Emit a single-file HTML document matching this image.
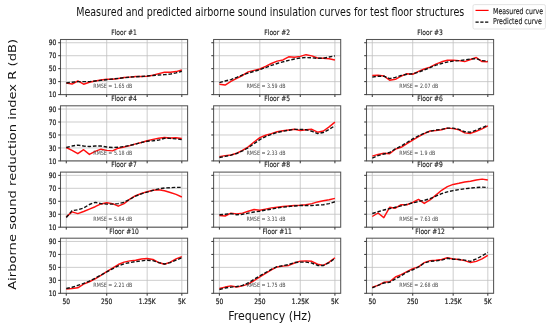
<!DOCTYPE html><html><head><meta charset="utf-8"><style>html,body{margin:0;padding:0;background:#fff;overflow:hidden}svg{display:block;filter:blur(0.35px)}text{font-family:"DejaVu Sans","Liberation Sans",sans-serif}</style></head><body>
<svg width="550" height="328" viewBox="0 0 550 328">
<rect width="550" height="328" fill="#fff"/>
<text transform="translate(270.2,16.1) scale(0.822,1)" font-size="11.6" text-anchor="middle" fill="#111">Measured and predicted airborne sound insulation curves for test floor structures</text>
<rect x="473" y="4.6" width="72.4" height="24.4" rx="1.5" fill="#fff" stroke="#d9d9d9" stroke-width="0.7"/>
<line x1="475.5" y1="10.4" x2="488.6" y2="10.4" stroke="#ff0000" stroke-width="1.2"/>
<line x1="475.5" y1="22.1" x2="488.6" y2="22.1" stroke="#000" stroke-width="1.2" stroke-dasharray="3.2,1.6"/>
<text transform="translate(493,13.7) scale(0.755,1)" font-size="8.3" text-anchor="start" fill="#222" stroke="#1a1a1a" stroke-width="0.14">Measured curve</text>
<text transform="translate(493,24.4) scale(0.755,1)" font-size="8.3" text-anchor="start" fill="#222" stroke="#1a1a1a" stroke-width="0.14">Predicted curve</text>
<text transform="translate(269.8,319.5) scale(0.87,1)" font-size="12.7" text-anchor="middle" fill="#111">Frequency (Hz)</text>
<text transform="translate(15.8,164.4) scale(0.8,1) rotate(-90)" font-size="13.1" text-anchor="middle" fill="#111">Airborne sound reduction index R (dB)</text>
<g stroke="#c0c0c0" stroke-width="0.8"><line x1="66.28" y1="39.5" x2="66.28" y2="94.6"/><line x1="106.72" y1="39.5" x2="106.72" y2="94.6"/><line x1="147.16" y1="39.5" x2="147.16" y2="94.6"/><line x1="181.82" y1="39.5" x2="181.82" y2="94.6"/><line x1="60.5" y1="94.6" x2="187.6" y2="94.6"/><line x1="60.5" y1="81.64" x2="187.6" y2="81.64"/><line x1="60.5" y1="68.67" x2="187.6" y2="68.67"/><line x1="60.5" y1="55.71" x2="187.6" y2="55.71"/><line x1="60.5" y1="42.74" x2="187.6" y2="42.74"/></g>
<polyline points="66.28,83.06 72.05,84.03 77.83,80.99 83.61,84.23 89.39,82.28 95.16,80.99 100.94,79.95 106.72,79.24 112.5,79.24 118.27,78.52 124.05,77.55 129.83,77.1 135.6,76.58 141.38,76.58 147.16,76.19 152.94,75.28 158.71,73.6 164.49,72.3 170.27,72.17 176.05,71.59 181.82,69.97" fill="none" stroke="#ff1010" stroke-width="1.45" stroke-linejoin="round"/>
<polyline points="66.28,82.93 72.05,82.28 77.83,81.64 83.61,81.64 89.39,81.64 95.16,80.99 100.94,80.34 106.72,79.69 112.5,79.04 118.27,78.39 124.05,77.75 129.83,77.1 135.6,76.77 141.38,76.45 147.16,75.93 152.94,75.48 158.71,75.02 164.49,74.63 170.27,74.12 176.05,72.88 181.82,71.26" fill="none" stroke="#111" stroke-width="1.4" stroke-dasharray="3.6,1.8" stroke-linejoin="round"/>
<rect x="60.5" y="39.5" width="127.1" height="55.1" fill="none" stroke="#555" stroke-width="1.05"/>
<g stroke="#333" stroke-width="1.0"><line x1="58.2" y1="94.6" x2="60.5" y2="94.6"/><line x1="58.2" y1="81.64" x2="60.5" y2="81.64"/><line x1="58.2" y1="68.67" x2="60.5" y2="68.67"/><line x1="58.2" y1="55.71" x2="60.5" y2="55.71"/><line x1="58.2" y1="42.74" x2="60.5" y2="42.74"/><line x1="66.28" y1="94.6" x2="66.28" y2="97"/><line x1="106.72" y1="94.6" x2="106.72" y2="97"/><line x1="147.16" y1="94.6" x2="147.16" y2="97"/><line x1="181.82" y1="94.6" x2="181.82" y2="97"/></g>
<text transform="translate(56.3,97.35) scale(0.8,1)" font-size="7.5" text-anchor="end" fill="#1a1a1a" stroke="#1a1a1a" stroke-width="0.22">10</text>
<text transform="translate(56.3,84.39) scale(0.8,1)" font-size="7.5" text-anchor="end" fill="#1a1a1a" stroke="#1a1a1a" stroke-width="0.22">30</text>
<text transform="translate(56.3,71.42) scale(0.8,1)" font-size="7.5" text-anchor="end" fill="#1a1a1a" stroke="#1a1a1a" stroke-width="0.22">50</text>
<text transform="translate(56.3,58.46) scale(0.8,1)" font-size="7.5" text-anchor="end" fill="#1a1a1a" stroke="#1a1a1a" stroke-width="0.22">70</text>
<text transform="translate(56.3,45.49) scale(0.8,1)" font-size="7.5" text-anchor="end" fill="#1a1a1a" stroke="#1a1a1a" stroke-width="0.22">90</text>
<text transform="translate(124.05,34.8) scale(0.8,1)" font-size="7.5" text-anchor="middle" fill="#1a1a1a" stroke="#1a1a1a" stroke-width="0.14">Floor #1</text>
<text transform="translate(93.3,88.2) scale(0.8,1)" font-size="6.0" text-anchor="start" fill="#444">RMSE = 1.65 dB</text>
<g stroke="#c0c0c0" stroke-width="0.8"><line x1="219.38" y1="39.5" x2="219.38" y2="94.6"/><line x1="259.82" y1="39.5" x2="259.82" y2="94.6"/><line x1="300.26" y1="39.5" x2="300.26" y2="94.6"/><line x1="334.92" y1="39.5" x2="334.92" y2="94.6"/><line x1="213.6" y1="94.6" x2="340.7" y2="94.6"/><line x1="213.6" y1="81.64" x2="340.7" y2="81.64"/><line x1="213.6" y1="68.67" x2="340.7" y2="68.67"/><line x1="213.6" y1="55.71" x2="340.7" y2="55.71"/><line x1="213.6" y1="42.74" x2="340.7" y2="42.74"/></g>
<polyline points="219.38,84.29 225.15,85.01 230.93,81.44 236.71,78.33 242.49,75.48 248.26,71.91 254.04,70.42 259.82,68.99 265.6,66.4 271.37,63.48 277.15,61.09 282.93,59.92 288.7,56.81 294.48,57.26 300.26,56.35 306.04,54.67 311.81,55.84 317.59,57.97 323.37,58.3 329.15,58.69 334.92,59.92" fill="none" stroke="#ff1010" stroke-width="1.45" stroke-linejoin="round"/>
<polyline points="219.38,82.61 225.15,80.99 230.93,79.56 236.71,77.36 242.49,74.96 248.26,73.08 254.04,71.39 259.82,69.71 265.6,67.57 271.37,65.43 277.15,63.48 282.93,61.86 288.7,60.37 294.48,58.95 300.26,57.97 306.04,57.52 311.81,57.78 317.59,58.3 323.37,58.3 329.15,57 334.92,55.84" fill="none" stroke="#111" stroke-width="1.4" stroke-dasharray="3.6,1.8" stroke-linejoin="round"/>
<rect x="213.6" y="39.5" width="127.1" height="55.1" fill="none" stroke="#555" stroke-width="1.05"/>
<g stroke="#333" stroke-width="1.0"><line x1="211.3" y1="94.6" x2="213.6" y2="94.6"/><line x1="211.3" y1="81.64" x2="213.6" y2="81.64"/><line x1="211.3" y1="68.67" x2="213.6" y2="68.67"/><line x1="211.3" y1="55.71" x2="213.6" y2="55.71"/><line x1="211.3" y1="42.74" x2="213.6" y2="42.74"/><line x1="219.38" y1="94.6" x2="219.38" y2="97"/><line x1="259.82" y1="94.6" x2="259.82" y2="97"/><line x1="300.26" y1="94.6" x2="300.26" y2="97"/><line x1="334.92" y1="94.6" x2="334.92" y2="97"/></g>
<text transform="translate(277.15,34.8) scale(0.8,1)" font-size="7.5" text-anchor="middle" fill="#1a1a1a" stroke="#1a1a1a" stroke-width="0.14">Floor #2</text>
<text transform="translate(246.4,88.2) scale(0.8,1)" font-size="6.0" text-anchor="start" fill="#444">RMSE = 3.59 dB</text>
<g stroke="#c0c0c0" stroke-width="0.8"><line x1="372.28" y1="39.5" x2="372.28" y2="94.6"/><line x1="412.72" y1="39.5" x2="412.72" y2="94.6"/><line x1="453.16" y1="39.5" x2="453.16" y2="94.6"/><line x1="487.82" y1="39.5" x2="487.82" y2="94.6"/><line x1="366.5" y1="94.6" x2="493.6" y2="94.6"/><line x1="366.5" y1="81.64" x2="493.6" y2="81.64"/><line x1="366.5" y1="68.67" x2="493.6" y2="68.67"/><line x1="366.5" y1="55.71" x2="493.6" y2="55.71"/><line x1="366.5" y1="42.74" x2="493.6" y2="42.74"/></g>
<polyline points="372.28,75.48 378.05,75.22 383.83,75.93 389.61,80.27 395.39,79.3 401.16,76.19 406.94,73.79 412.72,74.25 418.5,71.39 424.27,68.99 430.05,67.11 435.83,64.2 441.6,61.8 447.38,60.18 453.16,60.18 458.94,60.63 464.71,61.6 470.49,59.47 476.27,57.52 482.05,61.6 487.82,61.8" fill="none" stroke="#ff1010" stroke-width="1.45" stroke-linejoin="round"/>
<polyline points="372.28,77.16 378.05,76.19 383.83,76.19 389.61,78.59 395.39,77.36 401.16,75.48 406.94,74.25 412.72,73.79 418.5,72.11 424.27,69.97 430.05,67.57 435.83,65.17 441.6,63.48 447.38,62.06 453.16,61.09 458.94,60.63 464.71,59.92 470.49,58.95 476.27,58.69 482.05,60.63 487.82,61.09" fill="none" stroke="#111" stroke-width="1.4" stroke-dasharray="3.6,1.8" stroke-linejoin="round"/>
<rect x="366.5" y="39.5" width="127.1" height="55.1" fill="none" stroke="#555" stroke-width="1.05"/>
<g stroke="#333" stroke-width="1.0"><line x1="364.2" y1="94.6" x2="366.5" y2="94.6"/><line x1="364.2" y1="81.64" x2="366.5" y2="81.64"/><line x1="364.2" y1="68.67" x2="366.5" y2="68.67"/><line x1="364.2" y1="55.71" x2="366.5" y2="55.71"/><line x1="364.2" y1="42.74" x2="366.5" y2="42.74"/><line x1="372.28" y1="94.6" x2="372.28" y2="97"/><line x1="412.72" y1="94.6" x2="412.72" y2="97"/><line x1="453.16" y1="94.6" x2="453.16" y2="97"/><line x1="487.82" y1="94.6" x2="487.82" y2="97"/></g>
<text transform="translate(430.05,34.8) scale(0.8,1)" font-size="7.5" text-anchor="middle" fill="#1a1a1a" stroke="#1a1a1a" stroke-width="0.14">Floor #3</text>
<text transform="translate(399.3,88.2) scale(0.8,1)" font-size="6.0" text-anchor="start" fill="#444">RMSE = 2.07 dB</text>
<g stroke="#c0c0c0" stroke-width="0.8"><line x1="66.28" y1="105.8" x2="66.28" y2="160.9"/><line x1="106.72" y1="105.8" x2="106.72" y2="160.9"/><line x1="147.16" y1="105.8" x2="147.16" y2="160.9"/><line x1="181.82" y1="105.8" x2="181.82" y2="160.9"/><line x1="60.5" y1="160.9" x2="187.6" y2="160.9"/><line x1="60.5" y1="147.94" x2="187.6" y2="147.94"/><line x1="60.5" y1="134.97" x2="187.6" y2="134.97"/><line x1="60.5" y1="122.01" x2="187.6" y2="122.01"/><line x1="60.5" y1="109.04" x2="187.6" y2="109.04"/></g>
<polyline points="66.28,147.48 72.05,150.4 77.83,153.7 83.61,149.69 89.39,154.42 95.16,151.31 100.94,149.17 106.72,150.4 112.5,150.85 118.27,148.19 124.05,147.03 129.83,145.6 135.6,143.92 141.38,142.49 147.16,140.8 152.94,139.38 158.71,138.21 164.49,137.43 170.27,137.95 176.05,137.69 181.82,138.41" fill="none" stroke="#ff1010" stroke-width="1.45" stroke-linejoin="round"/>
<polyline points="66.28,147.48 72.05,146.06 77.83,145.08 83.61,146.06 89.39,146.57 95.16,146.06 100.94,146.06 106.72,147.03 112.5,147.48 118.27,147.29 124.05,146.57 129.83,145.34 135.6,144.18 141.38,142.49 147.16,141.26 152.94,140.8 158.71,140.09 164.49,138.21 170.27,138.41 176.05,138.92 181.82,139.64" fill="none" stroke="#111" stroke-width="1.4" stroke-dasharray="3.6,1.8" stroke-linejoin="round"/>
<rect x="60.5" y="105.8" width="127.1" height="55.1" fill="none" stroke="#555" stroke-width="1.05"/>
<g stroke="#333" stroke-width="1.0"><line x1="58.2" y1="160.9" x2="60.5" y2="160.9"/><line x1="58.2" y1="147.94" x2="60.5" y2="147.94"/><line x1="58.2" y1="134.97" x2="60.5" y2="134.97"/><line x1="58.2" y1="122.01" x2="60.5" y2="122.01"/><line x1="58.2" y1="109.04" x2="60.5" y2="109.04"/><line x1="66.28" y1="160.9" x2="66.28" y2="163.3"/><line x1="106.72" y1="160.9" x2="106.72" y2="163.3"/><line x1="147.16" y1="160.9" x2="147.16" y2="163.3"/><line x1="181.82" y1="160.9" x2="181.82" y2="163.3"/></g>
<text transform="translate(56.3,163.65) scale(0.8,1)" font-size="7.5" text-anchor="end" fill="#1a1a1a" stroke="#1a1a1a" stroke-width="0.22">10</text>
<text transform="translate(56.3,150.69) scale(0.8,1)" font-size="7.5" text-anchor="end" fill="#1a1a1a" stroke="#1a1a1a" stroke-width="0.22">30</text>
<text transform="translate(56.3,137.72) scale(0.8,1)" font-size="7.5" text-anchor="end" fill="#1a1a1a" stroke="#1a1a1a" stroke-width="0.22">50</text>
<text transform="translate(56.3,124.76) scale(0.8,1)" font-size="7.5" text-anchor="end" fill="#1a1a1a" stroke="#1a1a1a" stroke-width="0.22">70</text>
<text transform="translate(56.3,111.79) scale(0.8,1)" font-size="7.5" text-anchor="end" fill="#1a1a1a" stroke="#1a1a1a" stroke-width="0.22">90</text>
<text transform="translate(124.05,101.1) scale(0.8,1)" font-size="7.5" text-anchor="middle" fill="#1a1a1a" stroke="#1a1a1a" stroke-width="0.14">Floor #4</text>
<text transform="translate(93.3,154.5) scale(0.8,1)" font-size="6.0" text-anchor="start" fill="#444">RMSE = 5.18 dB</text>
<g stroke="#c0c0c0" stroke-width="0.8"><line x1="219.38" y1="105.8" x2="219.38" y2="160.9"/><line x1="259.82" y1="105.8" x2="259.82" y2="160.9"/><line x1="300.26" y1="105.8" x2="300.26" y2="160.9"/><line x1="334.92" y1="105.8" x2="334.92" y2="160.9"/><line x1="213.6" y1="160.9" x2="340.7" y2="160.9"/><line x1="213.6" y1="147.94" x2="340.7" y2="147.94"/><line x1="213.6" y1="134.97" x2="340.7" y2="134.97"/><line x1="213.6" y1="122.01" x2="340.7" y2="122.01"/><line x1="213.6" y1="109.04" x2="340.7" y2="109.04"/></g>
<polyline points="219.38,156.62 225.15,155.65 230.93,154.94 236.71,153.25 242.49,150.4 248.26,146.77 254.04,141.97 259.82,137.69 265.6,135.29 271.37,133.61 277.15,131.73 282.93,130.76 288.7,130.04 294.48,129.33 300.26,130.5 306.04,129.78 311.81,129.33 317.59,132.18 323.37,131.02 329.15,126.93 334.92,122.14" fill="none" stroke="#ff1010" stroke-width="1.45" stroke-linejoin="round"/>
<polyline points="219.38,157.53 225.15,156.36 230.93,155.13 236.71,153.51 242.49,150.85 248.26,147.74 254.04,143.66 259.82,139.64 265.6,136.53 271.37,134.32 277.15,132.44 282.93,131.21 288.7,130.3 294.48,129.33 300.26,129.33 306.04,129.78 311.81,131.21 317.59,133.61 323.37,132.44 329.15,129.33 334.92,125.77" fill="none" stroke="#111" stroke-width="1.4" stroke-dasharray="3.6,1.8" stroke-linejoin="round"/>
<rect x="213.6" y="105.8" width="127.1" height="55.1" fill="none" stroke="#555" stroke-width="1.05"/>
<g stroke="#333" stroke-width="1.0"><line x1="211.3" y1="160.9" x2="213.6" y2="160.9"/><line x1="211.3" y1="147.94" x2="213.6" y2="147.94"/><line x1="211.3" y1="134.97" x2="213.6" y2="134.97"/><line x1="211.3" y1="122.01" x2="213.6" y2="122.01"/><line x1="211.3" y1="109.04" x2="213.6" y2="109.04"/><line x1="219.38" y1="160.9" x2="219.38" y2="163.3"/><line x1="259.82" y1="160.9" x2="259.82" y2="163.3"/><line x1="300.26" y1="160.9" x2="300.26" y2="163.3"/><line x1="334.92" y1="160.9" x2="334.92" y2="163.3"/></g>
<text transform="translate(277.15,101.1) scale(0.8,1)" font-size="7.5" text-anchor="middle" fill="#1a1a1a" stroke="#1a1a1a" stroke-width="0.14">Floor #5</text>
<text transform="translate(246.4,154.5) scale(0.8,1)" font-size="6.0" text-anchor="start" fill="#444">RMSE = 2.33 dB</text>
<g stroke="#c0c0c0" stroke-width="0.8"><line x1="372.28" y1="105.8" x2="372.28" y2="160.9"/><line x1="412.72" y1="105.8" x2="412.72" y2="160.9"/><line x1="453.16" y1="105.8" x2="453.16" y2="160.9"/><line x1="487.82" y1="105.8" x2="487.82" y2="160.9"/><line x1="366.5" y1="160.9" x2="493.6" y2="160.9"/><line x1="366.5" y1="147.94" x2="493.6" y2="147.94"/><line x1="366.5" y1="134.97" x2="493.6" y2="134.97"/><line x1="366.5" y1="122.01" x2="493.6" y2="122.01"/><line x1="366.5" y1="109.04" x2="493.6" y2="109.04"/></g>
<polyline points="372.28,156.1 378.05,154.42 383.83,153.25 389.61,153.7 395.39,149.17 401.16,147.29 406.94,143.66 412.72,140.09 418.5,136.53 424.27,133.61 430.05,131.02 435.83,130.5 441.6,129.78 447.38,128.1 453.16,128.62 458.94,129.78 464.71,132.9 470.49,133.41 476.27,131.21 482.05,128.88 487.82,125.77" fill="none" stroke="#ff1010" stroke-width="1.45" stroke-linejoin="round"/>
<polyline points="372.28,158.05 378.05,155.65 383.83,153.96 389.61,152.54 395.39,148.91 401.16,146.06 406.94,142.49 412.72,138.92 418.5,135.81 424.27,133.16 430.05,131.21 435.83,130.04 441.6,129.33 447.38,128.1 453.16,128.1 458.94,129.33 464.71,131.73 470.49,132.18 476.27,130.04 482.05,127.65 487.82,125.25" fill="none" stroke="#111" stroke-width="1.4" stroke-dasharray="3.6,1.8" stroke-linejoin="round"/>
<rect x="366.5" y="105.8" width="127.1" height="55.1" fill="none" stroke="#555" stroke-width="1.05"/>
<g stroke="#333" stroke-width="1.0"><line x1="364.2" y1="160.9" x2="366.5" y2="160.9"/><line x1="364.2" y1="147.94" x2="366.5" y2="147.94"/><line x1="364.2" y1="134.97" x2="366.5" y2="134.97"/><line x1="364.2" y1="122.01" x2="366.5" y2="122.01"/><line x1="364.2" y1="109.04" x2="366.5" y2="109.04"/><line x1="372.28" y1="160.9" x2="372.28" y2="163.3"/><line x1="412.72" y1="160.9" x2="412.72" y2="163.3"/><line x1="453.16" y1="160.9" x2="453.16" y2="163.3"/><line x1="487.82" y1="160.9" x2="487.82" y2="163.3"/></g>
<text transform="translate(430.05,101.1) scale(0.8,1)" font-size="7.5" text-anchor="middle" fill="#1a1a1a" stroke="#1a1a1a" stroke-width="0.14">Floor #6</text>
<text transform="translate(399.3,154.5) scale(0.8,1)" font-size="6.0" text-anchor="start" fill="#444">RMSE = 1.9 dB</text>
<g stroke="#c0c0c0" stroke-width="0.8"><line x1="66.28" y1="172.1" x2="66.28" y2="227.2"/><line x1="106.72" y1="172.1" x2="106.72" y2="227.2"/><line x1="147.16" y1="172.1" x2="147.16" y2="227.2"/><line x1="181.82" y1="172.1" x2="181.82" y2="227.2"/><line x1="60.5" y1="227.2" x2="187.6" y2="227.2"/><line x1="60.5" y1="214.24" x2="187.6" y2="214.24"/><line x1="60.5" y1="201.27" x2="187.6" y2="201.27"/><line x1="60.5" y1="188.31" x2="187.6" y2="188.31"/><line x1="60.5" y1="175.34" x2="187.6" y2="175.34"/></g>
<polyline points="66.28,216.83 72.05,211.9 77.83,213.59 83.61,211.51 89.39,209.18 95.16,206.72 100.94,203.93 106.72,202.7 112.5,203.6 118.27,206.2 124.05,203.6 129.83,199.2 135.6,195.63 141.38,193.49 147.16,191.68 152.94,190.32 158.71,189.8 164.49,190.7 170.27,192.45 176.05,194.4 181.82,196.99" fill="none" stroke="#ff1010" stroke-width="1.45" stroke-linejoin="round"/>
<polyline points="66.28,217.48 72.05,210.61 77.83,209.83 83.61,208.01 89.39,204.51 95.16,202.31 100.94,203.6 106.72,204.12 112.5,204.12 118.27,203.6 124.05,202.31 129.83,199.33 135.6,196.08 141.38,193.88 147.16,192.07 152.94,190.32 158.71,188.89 164.49,187.98 170.27,187.72 176.05,187.33 181.82,187.33" fill="none" stroke="#111" stroke-width="1.4" stroke-dasharray="3.6,1.8" stroke-linejoin="round"/>
<rect x="60.5" y="172.1" width="127.1" height="55.1" fill="none" stroke="#555" stroke-width="1.05"/>
<g stroke="#333" stroke-width="1.0"><line x1="58.2" y1="227.2" x2="60.5" y2="227.2"/><line x1="58.2" y1="214.24" x2="60.5" y2="214.24"/><line x1="58.2" y1="201.27" x2="60.5" y2="201.27"/><line x1="58.2" y1="188.31" x2="60.5" y2="188.31"/><line x1="58.2" y1="175.34" x2="60.5" y2="175.34"/><line x1="66.28" y1="227.2" x2="66.28" y2="229.6"/><line x1="106.72" y1="227.2" x2="106.72" y2="229.6"/><line x1="147.16" y1="227.2" x2="147.16" y2="229.6"/><line x1="181.82" y1="227.2" x2="181.82" y2="229.6"/></g>
<text transform="translate(56.3,229.95) scale(0.8,1)" font-size="7.5" text-anchor="end" fill="#1a1a1a" stroke="#1a1a1a" stroke-width="0.22">10</text>
<text transform="translate(56.3,216.99) scale(0.8,1)" font-size="7.5" text-anchor="end" fill="#1a1a1a" stroke="#1a1a1a" stroke-width="0.22">30</text>
<text transform="translate(56.3,204.02) scale(0.8,1)" font-size="7.5" text-anchor="end" fill="#1a1a1a" stroke="#1a1a1a" stroke-width="0.22">50</text>
<text transform="translate(56.3,191.06) scale(0.8,1)" font-size="7.5" text-anchor="end" fill="#1a1a1a" stroke="#1a1a1a" stroke-width="0.22">70</text>
<text transform="translate(56.3,178.09) scale(0.8,1)" font-size="7.5" text-anchor="end" fill="#1a1a1a" stroke="#1a1a1a" stroke-width="0.22">90</text>
<text transform="translate(124.05,167.4) scale(0.8,1)" font-size="7.5" text-anchor="middle" fill="#1a1a1a" stroke="#1a1a1a" stroke-width="0.14">Floor #7</text>
<text transform="translate(93.3,220.8) scale(0.8,1)" font-size="6.0" text-anchor="start" fill="#444">RMSE = 5.84 dB</text>
<g stroke="#c0c0c0" stroke-width="0.8"><line x1="219.38" y1="172.1" x2="219.38" y2="227.2"/><line x1="259.82" y1="172.1" x2="259.82" y2="227.2"/><line x1="300.26" y1="172.1" x2="300.26" y2="227.2"/><line x1="334.92" y1="172.1" x2="334.92" y2="227.2"/><line x1="213.6" y1="227.2" x2="340.7" y2="227.2"/><line x1="213.6" y1="214.24" x2="340.7" y2="214.24"/><line x1="213.6" y1="201.27" x2="340.7" y2="201.27"/><line x1="213.6" y1="188.31" x2="340.7" y2="188.31"/><line x1="213.6" y1="175.34" x2="340.7" y2="175.34"/></g>
<polyline points="219.38,215.53 225.15,215.99 230.93,213.13 236.71,213.85 242.49,213.13 248.26,211.25 254.04,209.57 259.82,210.28 265.6,209.11 271.37,207.88 277.15,207.17 282.93,206.46 288.7,206 294.48,205.48 300.26,205.29 306.04,204.77 311.81,203.6 317.59,201.92 323.37,200.75 329.15,199.78 334.92,198.35" fill="none" stroke="#ff1010" stroke-width="1.45" stroke-linejoin="round"/>
<polyline points="219.38,214.82 225.15,214.3 230.93,213.59 236.71,214.82 242.49,214.3 248.26,213.13 254.04,211.97 259.82,211.25 265.6,210.02 271.37,209.11 277.15,207.88 282.93,207.17 288.7,206.46 294.48,206 300.26,205.48 306.04,205.48 311.81,205.48 317.59,205.03 323.37,204.77 329.15,203.6 334.92,201.72" fill="none" stroke="#111" stroke-width="1.4" stroke-dasharray="3.6,1.8" stroke-linejoin="round"/>
<rect x="213.6" y="172.1" width="127.1" height="55.1" fill="none" stroke="#555" stroke-width="1.05"/>
<g stroke="#333" stroke-width="1.0"><line x1="211.3" y1="227.2" x2="213.6" y2="227.2"/><line x1="211.3" y1="214.24" x2="213.6" y2="214.24"/><line x1="211.3" y1="201.27" x2="213.6" y2="201.27"/><line x1="211.3" y1="188.31" x2="213.6" y2="188.31"/><line x1="211.3" y1="175.34" x2="213.6" y2="175.34"/><line x1="219.38" y1="227.2" x2="219.38" y2="229.6"/><line x1="259.82" y1="227.2" x2="259.82" y2="229.6"/><line x1="300.26" y1="227.2" x2="300.26" y2="229.6"/><line x1="334.92" y1="227.2" x2="334.92" y2="229.6"/></g>
<text transform="translate(277.15,167.4) scale(0.8,1)" font-size="7.5" text-anchor="middle" fill="#1a1a1a" stroke="#1a1a1a" stroke-width="0.14">Floor #8</text>
<text transform="translate(246.4,220.8) scale(0.8,1)" font-size="6.0" text-anchor="start" fill="#444">RMSE = 3.31 dB</text>
<g stroke="#c0c0c0" stroke-width="0.8"><line x1="372.28" y1="172.1" x2="372.28" y2="227.2"/><line x1="412.72" y1="172.1" x2="412.72" y2="227.2"/><line x1="453.16" y1="172.1" x2="453.16" y2="227.2"/><line x1="487.82" y1="172.1" x2="487.82" y2="227.2"/><line x1="366.5" y1="227.2" x2="493.6" y2="227.2"/><line x1="366.5" y1="214.24" x2="493.6" y2="214.24"/><line x1="366.5" y1="201.27" x2="493.6" y2="201.27"/><line x1="366.5" y1="188.31" x2="493.6" y2="188.31"/><line x1="366.5" y1="175.34" x2="493.6" y2="175.34"/></g>
<polyline points="372.28,216.5 378.05,213 383.83,217.61 389.61,207.3 395.39,208.21 401.16,204.71 406.94,204.71 412.72,202.37 418.5,199.39 424.27,203.41 430.05,199.97 435.83,195.18 441.6,190.32 447.38,186.62 453.16,184.42 458.94,183.31 464.71,182.02 470.49,181.18 476.27,180.07 482.05,179.1 487.82,180.07" fill="none" stroke="#ff1010" stroke-width="1.45" stroke-linejoin="round"/>
<polyline points="372.28,213.52 378.05,211.77 383.83,210.02 389.61,208.6 395.39,207.3 401.16,205.87 406.94,204.32 412.72,202.89 418.5,201.47 424.27,200.3 430.05,198.68 435.83,196.15 441.6,193.69 447.38,191.81 453.16,190.57 458.94,189.6 464.71,188.82 470.49,188.11 476.27,187.53 482.05,187.07 487.82,187.53" fill="none" stroke="#111" stroke-width="1.4" stroke-dasharray="3.6,1.8" stroke-linejoin="round"/>
<rect x="366.5" y="172.1" width="127.1" height="55.1" fill="none" stroke="#555" stroke-width="1.05"/>
<g stroke="#333" stroke-width="1.0"><line x1="364.2" y1="227.2" x2="366.5" y2="227.2"/><line x1="364.2" y1="214.24" x2="366.5" y2="214.24"/><line x1="364.2" y1="201.27" x2="366.5" y2="201.27"/><line x1="364.2" y1="188.31" x2="366.5" y2="188.31"/><line x1="364.2" y1="175.34" x2="366.5" y2="175.34"/><line x1="372.28" y1="227.2" x2="372.28" y2="229.6"/><line x1="412.72" y1="227.2" x2="412.72" y2="229.6"/><line x1="453.16" y1="227.2" x2="453.16" y2="229.6"/><line x1="487.82" y1="227.2" x2="487.82" y2="229.6"/></g>
<text transform="translate(430.05,167.4) scale(0.8,1)" font-size="7.5" text-anchor="middle" fill="#1a1a1a" stroke="#1a1a1a" stroke-width="0.14">Floor #9</text>
<text transform="translate(399.3,220.8) scale(0.8,1)" font-size="6.0" text-anchor="start" fill="#444">RMSE = 7.63 dB</text>
<g stroke="#c0c0c0" stroke-width="0.8"><line x1="66.28" y1="238.2" x2="66.28" y2="293.3"/><line x1="106.72" y1="238.2" x2="106.72" y2="293.3"/><line x1="147.16" y1="238.2" x2="147.16" y2="293.3"/><line x1="181.82" y1="238.2" x2="181.82" y2="293.3"/><line x1="60.5" y1="293.3" x2="187.6" y2="293.3"/><line x1="60.5" y1="280.34" x2="187.6" y2="280.34"/><line x1="60.5" y1="267.37" x2="187.6" y2="267.37"/><line x1="60.5" y1="254.41" x2="187.6" y2="254.41"/><line x1="60.5" y1="241.44" x2="187.6" y2="241.44"/></g>
<polyline points="66.28,288.96 72.05,288.5 77.83,287.79 83.61,284.16 89.39,281.76 95.16,278.91 100.94,275.28 106.72,271.71 112.5,268.08 118.27,264.52 124.05,262.12 129.83,260.89 135.6,260.18 141.38,258.94 147.16,258.49 152.94,259.46 158.71,262.57 164.49,264.26 170.27,262.12 176.05,258.94 181.82,256.55" fill="none" stroke="#ff1010" stroke-width="1.45" stroke-linejoin="round"/>
<polyline points="66.28,288.5 72.05,287.27 77.83,285.39 83.61,283.45 89.39,281.05 95.16,278.2 100.94,275.08 106.72,271.91 112.5,268.8 118.27,265.94 124.05,263.74 129.83,262.57 135.6,261.6 141.38,260.89 147.16,260.18 152.94,260.63 158.71,262.57 164.49,264 170.27,262.57 176.05,260.18 181.82,257.78" fill="none" stroke="#111" stroke-width="1.4" stroke-dasharray="3.6,1.8" stroke-linejoin="round"/>
<rect x="60.5" y="238.2" width="127.1" height="55.1" fill="none" stroke="#555" stroke-width="1.05"/>
<g stroke="#333" stroke-width="1.0"><line x1="58.2" y1="293.3" x2="60.5" y2="293.3"/><line x1="58.2" y1="280.34" x2="60.5" y2="280.34"/><line x1="58.2" y1="267.37" x2="60.5" y2="267.37"/><line x1="58.2" y1="254.41" x2="60.5" y2="254.41"/><line x1="58.2" y1="241.44" x2="60.5" y2="241.44"/><line x1="66.28" y1="293.3" x2="66.28" y2="295.7"/><line x1="106.72" y1="293.3" x2="106.72" y2="295.7"/><line x1="147.16" y1="293.3" x2="147.16" y2="295.7"/><line x1="181.82" y1="293.3" x2="181.82" y2="295.7"/></g>
<text transform="translate(56.3,296.05) scale(0.8,1)" font-size="7.5" text-anchor="end" fill="#1a1a1a" stroke="#1a1a1a" stroke-width="0.22">10</text>
<text transform="translate(56.3,283.09) scale(0.8,1)" font-size="7.5" text-anchor="end" fill="#1a1a1a" stroke="#1a1a1a" stroke-width="0.22">30</text>
<text transform="translate(56.3,270.12) scale(0.8,1)" font-size="7.5" text-anchor="end" fill="#1a1a1a" stroke="#1a1a1a" stroke-width="0.22">50</text>
<text transform="translate(56.3,257.16) scale(0.8,1)" font-size="7.5" text-anchor="end" fill="#1a1a1a" stroke="#1a1a1a" stroke-width="0.22">70</text>
<text transform="translate(56.3,244.19) scale(0.8,1)" font-size="7.5" text-anchor="end" fill="#1a1a1a" stroke="#1a1a1a" stroke-width="0.22">90</text>
<text transform="translate(66.28,303.8) scale(0.8,1)" font-size="7.4" text-anchor="middle" fill="#1a1a1a" stroke="#1a1a1a" stroke-width="0.22">50</text>
<text transform="translate(106.72,303.8) scale(0.8,1)" font-size="7.4" text-anchor="middle" fill="#1a1a1a" stroke="#1a1a1a" stroke-width="0.22">250</text>
<text transform="translate(147.16,303.8) scale(0.8,1)" font-size="7.4" text-anchor="middle" fill="#1a1a1a" stroke="#1a1a1a" stroke-width="0.22">1.25K</text>
<text transform="translate(181.82,303.8) scale(0.8,1)" font-size="7.4" text-anchor="middle" fill="#1a1a1a" stroke="#1a1a1a" stroke-width="0.22">5K</text>
<text transform="translate(124.05,233.5) scale(0.8,1)" font-size="7.5" text-anchor="middle" fill="#1a1a1a" stroke="#1a1a1a" stroke-width="0.14">Floor #10</text>
<text transform="translate(93.3,286.9) scale(0.8,1)" font-size="6.0" text-anchor="start" fill="#444">RMSE = 2.21 dB</text>
<g stroke="#c0c0c0" stroke-width="0.8"><line x1="219.38" y1="238.2" x2="219.38" y2="293.3"/><line x1="259.82" y1="238.2" x2="259.82" y2="293.3"/><line x1="300.26" y1="238.2" x2="300.26" y2="293.3"/><line x1="334.92" y1="238.2" x2="334.92" y2="293.3"/><line x1="213.6" y1="293.3" x2="340.7" y2="293.3"/><line x1="213.6" y1="280.34" x2="340.7" y2="280.34"/><line x1="213.6" y1="267.37" x2="340.7" y2="267.37"/><line x1="213.6" y1="254.41" x2="340.7" y2="254.41"/><line x1="213.6" y1="241.44" x2="340.7" y2="241.44"/></g>
<polyline points="219.38,288.5 225.15,287.08 230.93,285.85 236.71,287.08 242.49,285.85 248.26,284.16 254.04,280.59 259.82,276.96 265.6,273.4 271.37,269.77 277.15,266.92 282.93,266.14 288.7,265.43 294.48,263.03 300.26,261.15 306.04,260.89 311.81,261.34 317.59,264.26 323.37,265.43 329.15,262.12 334.92,257.78" fill="none" stroke="#ff1010" stroke-width="1.45" stroke-linejoin="round"/>
<polyline points="219.38,289.48 225.15,288.05 230.93,287.08 236.71,286.56 242.49,285.39 248.26,282.99 254.04,279.36 259.82,275.8 265.6,272.62 271.37,269.32 277.15,266.66 282.93,265.69 288.7,264.52 294.48,262.57 300.26,262.12 306.04,262.12 311.81,263.03 317.59,265.43 323.37,265.43 329.15,262.57 334.92,258.49" fill="none" stroke="#111" stroke-width="1.4" stroke-dasharray="3.6,1.8" stroke-linejoin="round"/>
<rect x="213.6" y="238.2" width="127.1" height="55.1" fill="none" stroke="#555" stroke-width="1.05"/>
<g stroke="#333" stroke-width="1.0"><line x1="211.3" y1="293.3" x2="213.6" y2="293.3"/><line x1="211.3" y1="280.34" x2="213.6" y2="280.34"/><line x1="211.3" y1="267.37" x2="213.6" y2="267.37"/><line x1="211.3" y1="254.41" x2="213.6" y2="254.41"/><line x1="211.3" y1="241.44" x2="213.6" y2="241.44"/><line x1="219.38" y1="293.3" x2="219.38" y2="295.7"/><line x1="259.82" y1="293.3" x2="259.82" y2="295.7"/><line x1="300.26" y1="293.3" x2="300.26" y2="295.7"/><line x1="334.92" y1="293.3" x2="334.92" y2="295.7"/></g>
<text transform="translate(219.38,303.8) scale(0.8,1)" font-size="7.4" text-anchor="middle" fill="#1a1a1a" stroke="#1a1a1a" stroke-width="0.22">50</text>
<text transform="translate(259.82,303.8) scale(0.8,1)" font-size="7.4" text-anchor="middle" fill="#1a1a1a" stroke="#1a1a1a" stroke-width="0.22">250</text>
<text transform="translate(300.26,303.8) scale(0.8,1)" font-size="7.4" text-anchor="middle" fill="#1a1a1a" stroke="#1a1a1a" stroke-width="0.22">1.25K</text>
<text transform="translate(334.92,303.8) scale(0.8,1)" font-size="7.4" text-anchor="middle" fill="#1a1a1a" stroke="#1a1a1a" stroke-width="0.22">5K</text>
<text transform="translate(277.15,233.5) scale(0.8,1)" font-size="7.5" text-anchor="middle" fill="#1a1a1a" stroke="#1a1a1a" stroke-width="0.14">Floor #11</text>
<text transform="translate(246.4,286.9) scale(0.8,1)" font-size="6.0" text-anchor="start" fill="#444">RMSE = 1.75 dB</text>
<g stroke="#c0c0c0" stroke-width="0.8"><line x1="372.28" y1="238.2" x2="372.28" y2="293.3"/><line x1="412.72" y1="238.2" x2="412.72" y2="293.3"/><line x1="453.16" y1="238.2" x2="453.16" y2="293.3"/><line x1="487.82" y1="238.2" x2="487.82" y2="293.3"/><line x1="366.5" y1="293.3" x2="493.6" y2="293.3"/><line x1="366.5" y1="280.34" x2="493.6" y2="280.34"/><line x1="366.5" y1="267.37" x2="493.6" y2="267.37"/><line x1="366.5" y1="254.41" x2="493.6" y2="254.41"/><line x1="366.5" y1="241.44" x2="493.6" y2="241.44"/></g>
<polyline points="372.28,287.27 378.05,285.39 383.83,282.28 389.61,281.76 395.39,276.96 401.16,274.57 406.94,271.71 412.72,268.6 418.5,266.92 424.27,262.57 430.05,260.63 435.83,260.18 441.6,259.46 447.38,257.78 453.16,258.94 458.94,259.46 464.71,260.63 470.49,262.57 476.27,261.34 482.05,258.94 487.82,255.38" fill="none" stroke="#ff1010" stroke-width="1.45" stroke-linejoin="round"/>
<polyline points="372.28,287.79 378.05,285.39 383.83,282.99 389.61,282.28 395.39,278.91 401.16,275.8 406.94,272.17 412.72,269.77 418.5,266.92 424.27,263.03 430.05,261.34 435.83,260.89 441.6,260.18 447.38,258.23 453.16,259.2 458.94,259.46 464.71,260.18 470.49,261.34 476.27,258.94 482.05,255.83 487.82,252.46" fill="none" stroke="#111" stroke-width="1.4" stroke-dasharray="3.6,1.8" stroke-linejoin="round"/>
<rect x="366.5" y="238.2" width="127.1" height="55.1" fill="none" stroke="#555" stroke-width="1.05"/>
<g stroke="#333" stroke-width="1.0"><line x1="364.2" y1="293.3" x2="366.5" y2="293.3"/><line x1="364.2" y1="280.34" x2="366.5" y2="280.34"/><line x1="364.2" y1="267.37" x2="366.5" y2="267.37"/><line x1="364.2" y1="254.41" x2="366.5" y2="254.41"/><line x1="364.2" y1="241.44" x2="366.5" y2="241.44"/><line x1="372.28" y1="293.3" x2="372.28" y2="295.7"/><line x1="412.72" y1="293.3" x2="412.72" y2="295.7"/><line x1="453.16" y1="293.3" x2="453.16" y2="295.7"/><line x1="487.82" y1="293.3" x2="487.82" y2="295.7"/></g>
<text transform="translate(372.28,303.8) scale(0.8,1)" font-size="7.4" text-anchor="middle" fill="#1a1a1a" stroke="#1a1a1a" stroke-width="0.22">50</text>
<text transform="translate(412.72,303.8) scale(0.8,1)" font-size="7.4" text-anchor="middle" fill="#1a1a1a" stroke="#1a1a1a" stroke-width="0.22">250</text>
<text transform="translate(453.16,303.8) scale(0.8,1)" font-size="7.4" text-anchor="middle" fill="#1a1a1a" stroke="#1a1a1a" stroke-width="0.22">1.25K</text>
<text transform="translate(487.82,303.8) scale(0.8,1)" font-size="7.4" text-anchor="middle" fill="#1a1a1a" stroke="#1a1a1a" stroke-width="0.22">5K</text>
<text transform="translate(430.05,233.5) scale(0.8,1)" font-size="7.5" text-anchor="middle" fill="#1a1a1a" stroke="#1a1a1a" stroke-width="0.14">Floor #12</text>
<text transform="translate(399.3,286.9) scale(0.8,1)" font-size="6.0" text-anchor="start" fill="#444">RMSE = 2.68 dB</text>
</svg></body></html>
